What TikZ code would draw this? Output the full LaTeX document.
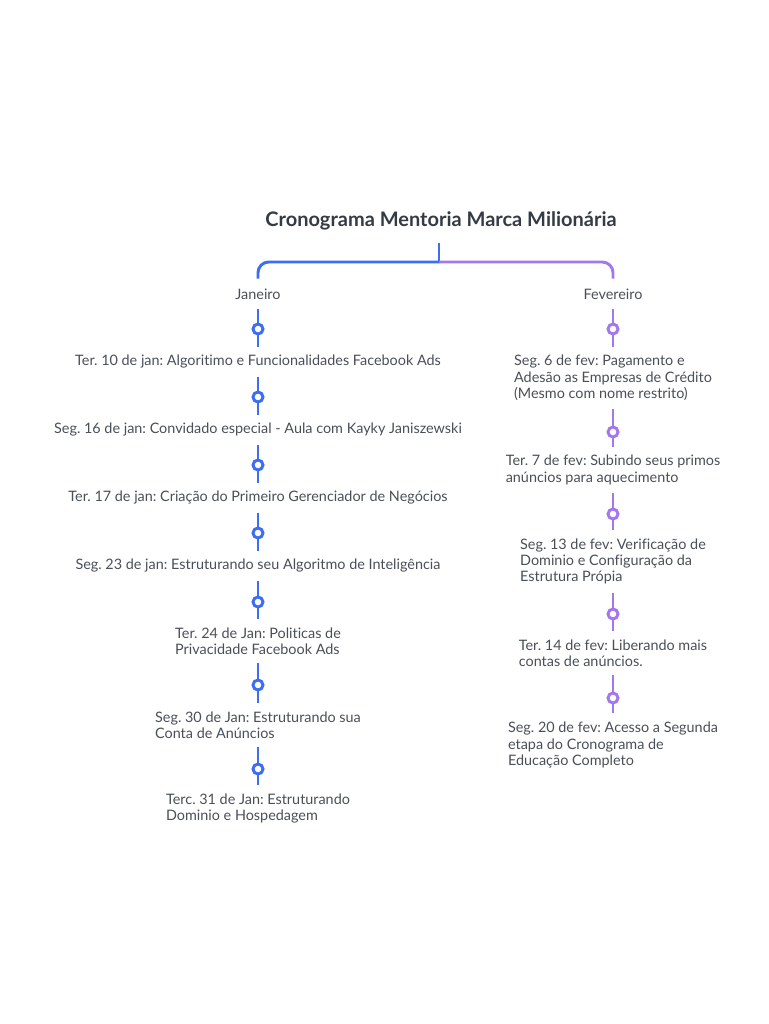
\documentclass[tikz,border=0pt]{standalone}
\usepackage{fontspec}
\setmainfont{Lato}[Ligatures=NoCommon]
\usetikzlibrary{positioning}
\definecolor{janBlue}{HTML}{3D6DF2}
\definecolor{fevPurple}{HTML}{A477EE}
\definecolor{titleInk}{HTML}{353B45}
\definecolor{textGrey}{HTML}{4A4F58}
\frenchspacing

\begin{document}
\begin{tikzpicture}[
  x=0.75pt, y=-0.75pt,
  every node/.style={font=\fontsize{10.8}{12.2}\selectfont, text=textGrey},
  heading/.style={font=\fontsize{15}{18}\selectfont\bfseries, text=titleInk, inner sep=0pt},
  month/.style={inner sep=0pt, outer sep=7.5pt},
  task/.style={align=left, inner sep=0pt, outer sep=6.5pt},
  knot/.style={circle, draw=#1, line width=2.2pt, fill=white, minimum size=7.5pt, inner sep=0pt},
  link/.style={draw=#1, line width=2.2pt},
]

\fill[white] (0,0) rectangle (768,1024);
\useasboundingbox (0,0) rectangle (768,1024);

\node[heading] at (441,220.5) (title) {Cronograma Mentoria Marca Milionária};
\coordinate (fork) at (439,262);

\node[month] at (258,294) (jan) {Janeiro};
\node[month] at (613,294) (fev) {Fevereiro};

\draw[link=janBlue, shorten <=10pt] (title.south -| fork) -- (fork);
\draw[link=janBlue, rounded corners=8] (fork) -| (jan);
\draw[link=fevPurple, rounded corners=8] (fork) -| (fev);

% janeiro
\node[knot=janBlue] at (258,329) (jk0) {};
\node[task] at (258,362) (j1) {Ter. 10 de jan: Algoritimo e Funcionalidades Facebook Ads};
\node[knot=janBlue] at (258,397) (jk1) {};
\node[task] at (258,430) (j2) {Seg. 16 de jan: Convidado especial - Aula com Kayky Janiszewski};
\node[knot=janBlue] at (258,465) (jk2) {};
\node[task] at (258,498) (j3) {Ter. 17 de jan: Criação do Primeiro Gerenciador de Negócios};
\node[knot=janBlue] at (258,533) (jk3) {};
\node[task] at (258,566) (j4) {Seg. 23 de jan: Estruturando seu Algoritmo de Inteligência};
\node[knot=janBlue] at (258,602) (jk4) {};
\node[task] at (258,641) (j5) {Ter. 24 de Jan: Politicas de\\Privacidade Facebook Ads};
\node[knot=janBlue] at (258,685) (jk5) {};
\node[task] at (258,725) (j6) {Seg. 30 de Jan: Estruturando sua\\Conta de Anúncios};
\node[knot=janBlue] at (258,769) (jk6) {};
\node[task] at (258,808.5) (j7) {Terc. 31 de Jan: Estruturando\\Dominio e Hospedagem};

\draw[link=janBlue] (jan) -- (jk0) -- (j1);
\draw[link=janBlue] (j1) -- (jk1) -- (j2);
\draw[link=janBlue] (j2) -- (jk2) -- (j3);
\draw[link=janBlue] (j3) -- (jk3) -- (j4);
\draw[link=janBlue] (j4) -- (jk4) -- (j5);
\draw[link=janBlue] (j5) -- (jk5) -- (j6);
\draw[link=janBlue] (j6) -- (jk6) -- (j7);

% fevereiro
\node[knot=fevPurple] at (613,329) (fk0) {};
\node[task] at (613,378) (f1) {Seg. 6 de fev: Pagamento e\\Adesão as Empresas de Crédito\\(Mesmo com nome restrito)};
\node[knot=fevPurple] at (613,432) (fk1) {};
\node[task] at (613,470) (f2) {Ter. 7 de fev: Subindo seus primos\\anúncios para aquecimento};
\node[knot=fevPurple] at (613,514) (fk2) {};
\node[task] at (613,561.5) (f3) {Seg. 13 de fev: Verificação de\\Dominio e Configuração da\\Estrutura Própia};
\node[knot=fevPurple] at (613,614) (fk3) {};
\node[task] at (613,653) (f4) {Ter. 14 de fev: Liberando mais\\contas de anúncios.};
\node[knot=fevPurple] at (613,698) (fk4) {};
\node[task] at (613,745) (f5) {Seg. 20 de fev: Acesso a Segunda\\etapa do Cronograma de\\Educação Completo};

\draw[link=fevPurple] (fev) -- (fk0) -- (f1);
\draw[link=fevPurple] (f1) -- (fk1) -- (f2);
\draw[link=fevPurple] (f2) -- (fk2) -- (f3);
\draw[link=fevPurple] (f3) -- (fk3) -- (f4);
\draw[link=fevPurple] (f4) -- (fk4) -- (f5);

\end{tikzpicture}
\end{document}
